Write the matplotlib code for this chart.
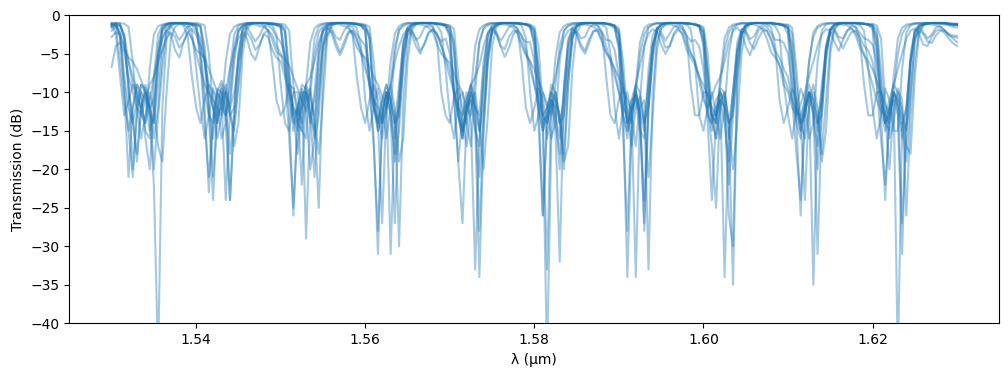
import numpy as np
import matplotlib
matplotlib.use("Agg")
import matplotlib.pyplot as plt

# wavelength grid (um), 0.5 nm step
wl = np.linspace(1.53, 1.63, 201)

# transmission traces in dB (one row = 10 nm)
trace_1 = [
    -1.1, -1.0, -2.2, -8, -12, -14, -11, -9, -10, -13, -14, -6, -1.8, -1.2, -1.0, -1.0, -1.0, -1.0, -1.1, -1.1,
    -1.3, -4, -10, -13, -14, -10, -8.5, -10, -13, -12, -5, -1.6, -1.1, -1.0, -1.0, -1.0, -1.0, -1.1, -1.1, -1.2,
    -1.4, -5, -11, -14, -12, -9, -9.5, -13, -15, -10, -3.5, -1.4, -1.1, -1.0, -1.0, -1.0, -1.0, -1.1, -1.2, -1.3,
    -2, -8, -12, -14, -11, -9, -11, -14, -13, -7, -2.2, -1.2, -1.0, -1.0, -1.0, -1.0, -1.0, -1.1, -1.2, -1.3,
    -2.5, -9, -13, -15, -11, -9, -11, -15, -12, -5, -1.8, -1.2, -1.0, -1.0, -1.0, -1.0, -1.1, -1.1, -1.2, -1.4,
    -3, -10, -14, -13, -9, -10, -14, -13, -7, -2.5, -1.3, -1.1, -1.0, -1.0, -1.0, -1.0, -1.0, -1.1, -1.2, -1.4,
    -3.5, -11, -14, -12, -9, -10, -14, -12, -6, -2, -1.2, -1.0, -1.0, -1.0, -1.0, -1.0, -1.1, -1.1, -1.2, -1.3,
    -3, -10, -13, -13, -9.5, -10, -14, -13, -7, -2.5, -1.3, -1.1, -1.0, -1.0, -1.0, -1.0, -1.0, -1.1, -1.2, -1.3,
    -1.6, -6, -12, -14, -11, -9, -11, -14, -13, -6, -2, -1.3, -1.1, -1.0, -1.0, -1.0, -1.0, -1.1, -1.1, -1.2,
    -1.3, -4, -11, -14, -12, -9, -10, -13, -15, -10, -3, -1.5, -1.2, -1.1, -1.0, -1.0, -1.0, -1.0, -1.1, -1.1,
    -1.1,
]
trace_2 = [
    -1.0, -1.5, -6, -11, -15, -12, -9, -11, -15, -16, -8, -2.5, -1.3, -1.1, -1.0, -1.0, -1.0, -1.1, -1.2, -2,
    -7, -12, -16, -13, -9.5, -11, -16, -14, -7, -2.5, -1.3, -1.1, -1.0, -1.0, -1.0, -1.0, -1.1, -1.1, -1.3, -2.5,
    -9, -14, -15, -10, -10, -15, -16, -9, -3, -1.5, -1.1, -1.0, -1.0, -1.0, -1.0, -1.0, -1.1, -1.2, -1.6, -4,
    -11, -15, -12, -9.5, -12, -16, -12, -5, -1.8, -1.2, -1.0, -1.0, -1.0, -1.0, -1.0, -1.1, -1.1, -1.3, -2.2, -7,
    -13, -16, -11, -10, -14, -17, -10, -3.5, -1.5, -1.1, -1.0, -1.0, -1.0, -1.0, -1.0, -1.1, -1.1, -1.3, -3, -10,
    -15, -13, -10, -12, -16, -14, -6, -2, -1.3, -1.1, -1.0, -1.0, -1.0, -1.0, -1.0, -1.1, -1.2, -1.6, -5, -12,
    -16, -12, -10, -13, -17, -11, -4, -1.6, -1.2, -1.0, -1.0, -1.0, -1.0, -1.0, -1.0, -1.1, -1.2, -1.8, -6, -13,
    -15, -12, -10, -13, -16, -12, -5, -1.8, -1.2, -1.0, -1.0, -1.0, -1.0, -1.0, -1.0, -1.1, -1.2, -1.4, -2.5, -9,
    -13, -16, -12, -9.5, -11, -16, -14, -6, -2, -1.2, -1.0, -1.0, -1.0, -1.0, -1.0, -1.1, -1.1, -1.3, -2, -7,
    -12, -16, -13, -9.5, -11, -15, -15, -7, -2.2, -1.3, -1.1, -1.0, -1.0, -1.0, -1.0, -1.0, -1.1, -1.1, -1.2, -1.3,
    -1.3,
]
trace_3 = [
    -1.2, -1.0, -1.1, -3, -10, -13, -19, -12, -9, -11, -20, -13, -7, -2, -1.2, -1.0, -1.0, -1.0, -1.0, -1.1,
    -1.1, -1.3, -4, -11, -21, -13, -9, -11, -24, -14, -9, -3, -1.4, -1.1, -1.0, -1.0, -1.0, -1.0, -1.1, -1.1,
    -1.2, -1.6, -7, -13, -12, -22, -10, -9.5, -14, -25, -8, -2.2, -1.3, -1.0, -1.0, -1.0, -1.0, -1.0, -1.1, -1.2,
    -1.3, -2.5, -10, -14, -27, -12, -9, -12, -30, -11, -4, -1.6, -1.1, -1.0, -1.0, -1.0, -1.0, -1.1, -1.1, -1.2,
    -1.4, -3.5, -11, -15, -12, -9, -12, -28, -14, -6, -2, -1.3, -1.1, -1.0, -1.0, -1.0, -1.0, -1.1, -1.1, -1.3,
    -1.8, -8, -13, -33, -12, -10, -14, -20, -9, -3, -1.5, -1.1, -1.0, -1.0, -1.0, -1.0, -1.0, -1.1, -1.2, -1.3,
    -2, -9, -14, -12, -9.5, -13, -28, -12, -5, -1.8, -1.2, -1.0, -1.0, -1.0, -1.0, -1.0, -1.1, -1.1, -1.2, -1.3,
    -1.8, -7, -13, -14, -10, -11, -26, -30, -8, -2.5, -1.4, -1.1, -1.0, -1.0, -1.0, -1.0, -1.0, -1.1, -1.1, -1.2,
    -1.3, -2.5, -9, -14, -24, -11, -9, -12, -18, -11, -4, -1.6, -1.2, -1.0, -1.0, -1.0, -1.0, -1.1, -1.1, -1.2,
    -1.2, -1.8, -7, -13, -20, -12, -9.5, -11, -26, -13, -6, -2, -1.3, -1.1, -1.0, -1.0, -1.0, -1.0, -1.1, -1.2,
    -1.2,
]
trace_4 = [
    -6.7, -4, -3.5, -5, -8, -10, -12, -13, -11, -9, -8, -5, -3, -2, -2.5, -4.5, -5.5, -3.5, -2.2, -3,
    -5, -7, -9, -10, -11, -12, -13, -10, -7, -4.5, -3, -2.2, -3, -5, -5.8, -4, -2.5, -2.8, -4.5, -5.5,
    -6, -8, -10, -12, -13, -11, -9, -8, -6, -3.5, -2, -1.6, -2.2, -4, -5.2, -4, -2.4, -2, -3, -5,
    -7, -9, -11, -12, -14, -12, -9, -6, -4, -2.5, -1.8, -2.5, -4, -5, -3.6, -2.2, -1.8, -2.4, -4, -6,
    -8, -10, -12, -13, -11, -9, -8, -6.5, -4, -2.2, -1.7, -2.3, -4, -5.4, -4.2, -2.5, -1.9, -2.6, -4.4, -7,
    -9, -11, -13, -12, -10, -8, -5, -3, -2, -1.7, -2.5, -4.2, -5, -3.5, -2.1, -1.8, -2.5, -4, -6, -8,
    -10, -12, -13, -11, -9, -6.5, -4, -2.4, -1.8, -2.2, -3.8, -5, -4, -2.3, -1.6, -1.8, -3, -4.8, -6, -8.5,
    -11, -12, -10.5, -9, -8, -6, -3.5, -2, -1.6, -2.3, -4, -5.2, -3.5, -2, -1.6, -2, -3.2, -5, -6.5, -9,
    -10, -12, -13, -11.5, -10, -8, -6, -4, -2.5, -1.8, -2, -3.5, -4.6, -3.2, -2, -1.7, -2.2, -3.5, -5, -7,
    -9, -11, -12.5, -13, -11, -9, -7, -5, -3, -2, -1.7, -2.4, -3.8, -4, -2.8, -2, -1.8, -2.3, -3, -3.6,
    -4,
]
trace_5 = [
    -1.0, -1.0, -1.0, -1.1, -1.5, -6, -12, -16, -13, -10, -12, -17, -19, -10, -3, -1.5, -1.1, -1.0, -1.0, -1.0,
    -1.0, -1.1, -1.3, -5, -12, -16, -13, -10, -12, -17, -14, -5, -1.8, -1.2, -1.0, -1.0, -1.0, -1.0, -1.0, -1.1,
    -1.1, -1.2, -2, -9, -14, -15, -11, -10, -14, -18, -11, -3, -1.4, -1.1, -1.0, -1.0, -1.0, -1.0, -1.1, -1.1,
    -1.2, -1.5, -6, -13, -16, -12, -10, -13, -19, -16, -6, -1.9, -1.2, -1.0, -1.0, -1.0, -1.0, -1.0, -1.1, -1.2,
    -1.3, -1.8, -8, -14, -17, -12, -10, -14, -20, -13, -4, -1.6, -1.1, -1.0, -1.0, -1.0, -1.0, -1.1, -1.1, -1.2,
    -1.5, -4, -12, -16, -13, -10, -13, -19, -17, -7, -2.2, -1.3, -1.1, -1.0, -1.0, -1.0, -1.0, -1.0, -1.1, -1.3,
    -1.7, -6, -13, -17, -12, -10.5, -14, -21, -13, -4.5, -1.7, -1.2, -1.0, -1.0, -1.0, -1.0, -1.0, -1.1, -1.1, -1.3,
    -1.5, -5, -13, -16, -12, -10, -14, -20, -14, -5, -1.9, -1.2, -1.0, -1.0, -1.0, -1.0, -1.0, -1.1, -1.1, -1.2,
    -1.2, -1.6, -7, -14, -16, -12, -10, -13, -19, -15, -5, -1.8, -1.2, -1.0, -1.0, -1.0, -1.0, -1.0, -1.1, -1.1,
    -1.1, -1.3, -3, -11, -16, -14, -10, -12, -17, -18, -8, -2.5, -1.3, -1.1, -1.0, -1.0, -1.0, -1.0, -1.0, -1.1,
    -1.1,
]
trace_6 = [
    -1.3, -1.2, -2.5, -4.5, -5.5, -6, -7, -8.5, -10, -12, -14, -9, -3, -1.5, -1.2, -1.1, -1.1, -1.2, -1.6, -3,
    -4.5, -5, -5.5, -7, -8.5, -10, -12, -13, -9, -4, -1.8, -1.3, -1.1, -1.1, -1.2, -1.4, -1.5, -1.9, -3.2, -4.8,
    -5.2, -5.6, -6.5, -8, -9.5, -11, -12.5, -10, -5, -2.2, -1.4, -1.2, -1.1, -1.1, -1.2, -1.4, -1.7, -2.5, -4.2, -5,
    -5.5, -6.5, -8, -9, -10.5, -12, -9, -4, -2, -1.4, -1.2, -1.1, -1.1, -1.2, -1.3, -1.6, -2.2, -3.8, -5, -5.6,
    -6.2, -7.5, -9, -10, -12, -13, -8, -3.5, -1.8, -1.3, -1.1, -1.1, -1.1, -1.2, -1.3, -1.6, -2.3, -4, -5.2, -6,
    -7, -8.5, -10, -11.5, -13, -9, -4, -2, -1.4, -1.2, -1.1, -1.1, -1.2, -1.3, -1.5, -2, -3.5, -5, -5.8, -7,
    -8, -9.5, -11, -12.5, -10, -5, -2.5, -1.5, -1.2, -1.1, -1.1, -1.1, -1.2, -1.3, -1.6, -2.5, -4.5, -5.5, -6.5, -8,
    -9, -10.5, -12, -13, -9, -4.5, -2.2, -1.4, -1.2, -1.1, -1.1, -1.1, -1.2, -1.4, -1.8, -3, -4.8, -5.5, -6.5, -8,
    -9.5, -11, -12.5, -13, -11, -6, -2.8, -1.6, -1.3, -1.1, -1.1, -1.1, -1.1, -1.2, -1.3, -1.7, -2.6, -4.2, -5.2, -6,
    -7, -8.5, -10, -11.5, -13, -10, -5, -2.4, -1.5, -1.2, -1.1, -1.1, -1.1, -1.1, -1.2, -1.3, -1.5, -1.9, -2.5, -3,
    -3.5,
]
trace_7 = [
    -1.5, -1.2, -1.3, -3, -9, -14, -18, -12, -10, -13, -22, -45, -12, -3, -1.4, -1.1, -1.0, -1.0, -1.0, -1.1,
    -1.2, -1.4, -5, -12, -16, -11, -9.5, -12, -18, -13, -6, -2, -1.3, -1.1, -1.0, -1.0, -1.0, -1.0, -1.1, -1.2,
    -1.3, -2, -8, -13, -18, -12, -10, -13, -21, -11, -4, -1.6, -1.2, -1.0, -1.0, -1.0, -1.0, -1.1, -1.1, -1.2,
    -1.5, -3, -11, -15, -13, -10, -12, -19, -15, -6, -2.2, -1.3, -1.1, -1.0, -1.0, -1.0, -1.0, -1.1, -1.2, -1.3,
    -1.7, -5, -12, -16, -12, -10, -13, -21, -13, -5, -1.9, -1.2, -1.0, -1.0, -1.0, -1.0, -1.0, -1.1, -1.2, -1.4,
    -2.2, -8, -14, -45, -16, -11, -13, -18, -9, -3, -1.5, -1.1, -1.0, -1.0, -1.0, -1.0, -1.0, -1.1, -1.2, -1.4,
    -2.5, -9, -15, -13, -10, -14, -24, -11, -4, -1.7, -1.2, -1.0, -1.0, -1.0, -1.0, -1.0, -1.1, -1.1, -1.2, -1.4,
    -2.2, -8, -14, -16, -11, -12, -22, -13, -5, -2, -1.3, -1.1, -1.0, -1.0, -1.0, -1.0, -1.0, -1.1, -1.1, -1.3,
    -1.5, -4, -12, -15, -12, -10, -13, -20, -12, -4.5, -1.8, -1.2, -1.0, -1.0, -1.0, -1.0, -1.0, -1.1, -1.1, -1.2,
    -1.3, -2.5, -9, -14, -15, -11, -45, -14, -19, -10, -3.5, -1.6, -1.2, -1.1, -1.0, -1.0, -1.0, -1.0, -1.1, -1.1,
    -1.2,
]
trace_8 = [
    -1.4, -1.2, -3, -10, -21, -12, -9, -10, -16, -20, -12, -5, -1.7, -1.2, -1.0, -1.0, -1.0, -1.0, -1.1, -1.2,
    -1.4, -5, -12, -23, -13, -10, -11, -24, -12, -6, -2.2, -1.4, -1.1, -1.0, -1.0, -1.0, -1.0, -1.1, -1.2, -1.3,
    -1.6, -6, -13, -26, -12, -9.5, -12, -20, -16, -5, -1.8, -1.2, -1.0, -1.0, -1.0, -1.0, -1.0, -1.1, -1.2, -1.4,
    -2, -9, -16, -31, -13, -10, -13, -27, -12, -4, -1.6, -1.2, -1.0, -1.0, -1.0, -1.0, -1.0, -1.1, -1.2, -1.5,
    -2.8, -10, -19, -13, -10, -14, -33, -16, -7, -2.5, -1.4, -1.1, -1.0, -1.0, -1.0, -1.0, -1.1, -1.1, -1.2, -1.6,
    -3.5, -12, -26, -14, -11, -15, -32, -10, -3.5, -1.6, -1.2, -1.0, -1.0, -1.0, -1.0, -1.0, -1.1, -1.1, -1.3, -1.7,
    -4, -13, -34, -15, -10, -13, -27, -12, -4.5, -1.8, -1.2, -1.0, -1.0, -1.0, -1.0, -1.0, -1.0, -1.1, -1.2, -1.5,
    -3.5, -12, -17, -25, -11, -10, -14, -35, -9, -3, -1.5, -1.1, -1.0, -1.0, -1.0, -1.0, -1.0, -1.1, -1.2, -1.4,
    -1.8, -7, -14, -26, -13, -10, -12, -31, -13, -5, -1.9, -1.2, -1.0, -1.0, -1.0, -1.0, -1.0, -1.1, -1.1, -1.3,
    -1.5, -5, -13, -24, -12, -10, -12, -27, -15, -6, -2, -1.3, -1.1, -1.0, -1.0, -1.0, -1.0, -1.0, -1.1, -1.2,
    -1.2,
]
trace_9 = [
    -1.2, -2.5, -8, -13, -11, -9, -10, -13, -14, -7, -2.5, -1.4, -1.2, -1.1, -1.0, -1.0, -1.1, -1.3, -2.8, -8,
    -12, -14, -11, -9, -10, -13, -12, -6, -2.4, -1.5, -1.2, -1.1, -1.0, -1.0, -1.0, -1.1, -1.3, -2, -6, -11,
    -13, -12, -9, -9.5, -12, -14, -9, -3.5, -1.7, -1.2, -1.1, -1.0, -1.0, -1.0, -1.0, -1.1, -1.3, -2.5, -8, -12,
    -14, -11, -9, -11, -14, -12, -6, -2.4, -1.4, -1.1, -1.0, -1.0, -1.0, -1.0, -1.0, -1.1, -1.4, -3.5, -10, -13,
    -14, -10.5, -9.5, -12, -14, -10, -4, -1.8, -1.3, -1.1, -1.0, -1.0, -1.0, -1.0, -1.1, -1.2, -1.8, -6, -12, -14,
    -12, -9.5, -11, -14, -12, -5.5, -2.2, -1.4, -1.1, -1.0, -1.0, -1.0, -1.0, -1.0, -1.1, -1.3, -2.2, -8, -13, -14,
    -11, -9.5, -12, -14, -9, -3.5, -1.7, -1.2, -1.1, -1.0, -1.0, -1.0, -1.0, -1.0, -1.1, -1.4, -2.6, -9, -13, -13,
    -10, -10, -13, -14, -8, -3, -1.6, -1.2, -1.1, -1.0, -1.0, -1.0, -1.0, -1.0, -1.1, -1.2, -1.6, -4, -11, -14,
    -12, -9.5, -11, -14, -13, -6, -2.2, -1.4, -1.1, -1.0, -1.0, -1.0, -1.0, -1.0, -1.1, -1.2, -1.5, -3, -9, -13,
    -13, -10, -10, -13, -14, -8, -3, -1.6, -1.2, -1.1, -1.0, -1.0, -1.0, -1.0, -1.0, -1.1, -1.1, -1.2, -1.3, -1.5,
    -1.6,
]
trace_10 = [
    -2, -1.5, -1.3, -2.5, -6, -9, -11, -12, -10, -12, -16, -12, -5, -2, -1.4, -2.2, -3.2, -2.4, -1.5, -1.3,
    -2, -3, -6, -10, -12, -14, -11, -10, -13, -15, -9, -3, -1.5, -2.4, -3.4, -2.6, -1.5, -1.3, -1.8, -2.8,
    -3.5, -5, -9, -12, -14, -12, -10, -12, -16, -13, -5, -1.8, -1.6, -2.8, -3.2, -2, -1.3, -1.5, -2.5, -3.2,
    -4, -8, -12, -15, -13, -10, -13, -18, -10, -3.5, -1.7, -2, -3.2, -2.8, -1.6, -1.3, -1.6, -2.6, -3.4, -3,
    -5, -10, -13, -16, -12, -11, -15, -17, -8, -3, -1.6, -2.2, -3.3, -2.5, -1.5, -1.3, -1.7, -2.8, -3.5, -3.5,
    -6, -12, -15, -13, -11, -14, -18, -9, -3.2, -1.7, -2, -3, -2.8, -1.6, -1.2, -1.4, -2.2, -3.2, -3.3, -4.5,
    -8, -13, -16, -12, -11, -15, -16, -7, -2.6, -1.6, -2.2, -3.3, -2.4, -1.5, -1.3, -1.6, -2.6, -3.4, -3.2, -4,
    -7, -12, -15, -13, -11, -14, -19, -10, -3.5, -1.8, -2, -3.1, -2.7, -1.6, -1.3, -1.5, -2.3, -3.2, -3.2, -3.6,
    -5, -9, -13, -15, -12, -10, -13, -17, -11, -4, -1.9, -1.8, -2.8, -3, -2, -1.4, -1.5, -2.3, -3, -3.2,
    -3.8, -6, -11, -14, -13, -10, -12, -16, -14, -6, -2.2, -1.6, -2.2, -3, -2.5, -1.6, -1.4, -1.9, -2.6, -2.8,
    -2.9,
]
trace_11 = [
    -1.6, -1.3, -2.5, -9, -15, -21, -13, -9, -9.5, -12, -11, -4, -1.5, -1.1, -1.0, -1.0, -1.0, -1.0, -1.1, -1.2,
    -1.5, -6, -14, -21, -14, -9.5, -10, -13, -11, -5, -2, -1.3, -1.1, -1.0, -1.0, -1.0, -1.0, -1.1, -1.1, -1.2,
    -1.5, -7, -16, -25, -15, -10, -10, -14, -10, -4, -1.8, -1.2, -1.0, -1.0, -1.0, -1.0, -1.0, -1.1, -1.1, -1.3,
    -1.8, -9, -17, -28, -14, -10, -11, -14, -9, -3.5, -1.6, -1.2, -1.0, -1.0, -1.0, -1.0, -1.0, -1.1, -1.2, -1.3,
    -2.2, -11, -19, -27, -13, -10, -12, -13, -6, -2.4, -1.4, -1.1, -1.0, -1.0, -1.0, -1.0, -1.0, -1.1, -1.2, -1.4,
    -4, -14, -26, -14, -10, -11, -14, -11, -5, -2, -1.3, -1.1, -1.0, -1.0, -1.0, -1.0, -1.0, -1.1, -1.2, -1.5,
    -4.5, -15, -28, -13, -10, -12, -14, -9, -4, -1.8, -1.2, -1.0, -1.0, -1.0, -1.0, -1.0, -1.0, -1.1, -1.2, -1.4,
    -4, -14, -24, -13, -10, -12, -14, -10, -4.5, -2, -1.3, -1.1, -1.0, -1.0, -1.0, -1.0, -1.0, -1.1, -1.2, -1.3,
    -2.5, -11, -18, -24, -13, -10, -11, -14, -10, -4, -1.7, -1.2, -1.0, -1.0, -1.0, -1.0, -1.0, -1.0, -1.1, -1.2,
    -1.8, -9, -16, -22, -14, -10, -11, -14, -12, -5, -2, -1.3, -1.1, -1.0, -1.0, -1.0, -1.0, -1.0, -1.1, -1.2,
    -1.3,
]
trace_12 = [
    -2.8, -2.2, -2.5, -4, -6, -8, -10, -12, -14, -11, -8, -6, -4.5, -3, -2.2, -2.8, -4.2, -3.5, -2.2, -1.8,
    -2.5, -4, -6, -9, -12, -14, -11, -9, -12, -10, -6, -3.5, -2.2, -3, -4.5, -3.8, -2.4, -1.9, -2.6, -4,
    -5, -7, -10, -13, -15, -11, -9, -11, -13, -8, -4, -2.4, -2, -3.4, -4.8, -3.4, -2.1, -2, -3.2, -4.6,
    -6, -9, -12, -14, -11, -9, -11, -16, -11, -5, -2.6, -2, -3, -4.6, -3.8, -2.3, -1.9, -2.5, -4, -5.5,
    -7, -10, -13, -16, -12, -10, -12, -15, -9, -4, -2.2, -2.4, -4, -4.4, -2.8, -2, -2.2, -3.5, -5, -6,
    -9, -12, -15, -12, -10, -13, -16, -10, -4, -2.2, -2.3, -3.8, -4.6, -3, -2, -2.1, -3.2, -4.8, -5.5, -7,
    -10, -13, -15, -11, -10.5, -13, -15, -9, -3.8, -2.1, -2.6, -4.2, -4, -2.6, -1.9, -2.3, -3.8, -5, -6, -8,
    -10, -13, -14, -11, -10, -12, -16, -10, -4.5, -2.3, -2.2, -3.6, -4.4, -3, -2, -2, -3, -4.6, -5.5, -7,
    -8, -11, -14, -16, -12, -10, -12, -15, -9, -4.5, -2.4, -2, -3.2, -4.3, -3.2, -2.2, -2, -2.8, -4, -4.6,
    -6, -9, -12, -15, -13, -10, -11, -15, -12, -6, -3, -2, -2.4, -3.4, -3.6, -2.6, -2, -2, -2.4, -2.6,
    -2.7,
]
trace_13 = [
    -1.3, -1.1, -1.2, -2.8, -9, -20, -12, -10, -11, -15, -13, -6, -2, -1.3, -1.1, -1.0, -1.0, -1.0, -1.1, -1.2,
    -1.2, -1.5, -6, -13, -24, -12, -10, -14, -24, -12, -5, -1.8, -1.2, -1.0, -1.0, -1.0, -1.0, -1.0, -1.1, -1.2,
    -1.3, -2.2, -9, -15, -12, -10, -29, -13, -11, -6, -2.2, -1.4, -1.1, -1.0, -1.0, -1.0, -1.0, -1.0, -1.1, -1.3,
    -1.4, -3, -11, -14, -12, -10, -31, -14, -12, -5, -2, -1.3, -1.1, -1.0, -1.0, -1.0, -1.0, -1.1, -1.1, -1.3,
    -1.6, -4, -12, -15, -12, -11, -14, -34, -15, -6, -2.2, -1.3, -1.1, -1.0, -1.0, -1.0, -1.0, -1.1, -1.2, -1.4,
    -2, -7, -13, -14, -11, -12, -20, -13, -7, -2.8, -1.5, -1.1, -1.0, -1.0, -1.0, -1.0, -1.0, -1.1, -1.2, -1.4,
    -2.4, -8, -14, -13, -34, -12, -11, -33, -10, -3.5, -1.6, -1.2, -1.0, -1.0, -1.0, -1.0, -1.0, -1.1, -1.2, -1.4,
    -2.2, -8, -14, -12, -11, -34, -15, -12, -6, -2.4, -1.4, -1.1, -1.0, -1.0, -1.0, -1.0, -1.0, -1.1, -1.2, -1.3,
    -1.6, -5, -12, -14, -12, -11, -35, -14, -11, -5, -2, -1.3, -1.1, -1.0, -1.0, -1.0, -1.0, -1.0, -1.1, -1.2,
    -1.4, -3, -10, -14, -12, -11, -13, -31, -13, -6, -2.2, -1.4, -1.1, -1.0, -1.0, -1.0, -1.0, -1.0, -1.1, -1.2,
    -1.2,
]

traces = [trace_1, trace_2, trace_3, trace_4, trace_5, trace_6, trace_7,
          trace_8, trace_9, trace_10, trace_11, trace_12, trace_13]

bad = [(n + 1, len(t)) for n, t in enumerate(traces) if len(t) != len(wl)]
if bad:
    raise ValueError("trace length mismatch: %s" % bad)

fig = plt.figure(figsize=(10.08, 3.76), dpi=100)
ax = fig.add_axes([0.0688, 0.1402, 0.9226, 0.8191])

for t in traces:
    ax.plot(wl, t, color="C0", alpha=0.4)

ax.set_ylim(-40, 0)
ax.set_xlabel("λ (µm)")
ax.set_ylabel("Transmission (dB)")

fig.savefig("out.png", dpi=100)
